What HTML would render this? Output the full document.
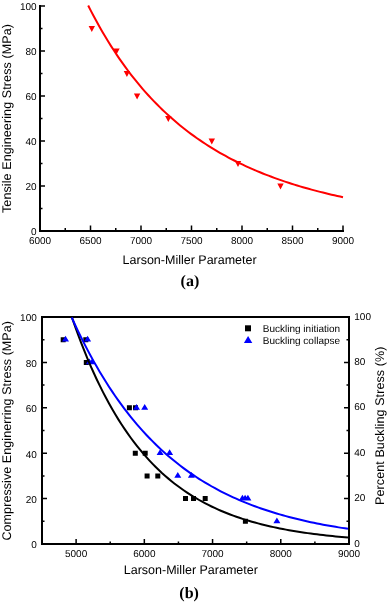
<!DOCTYPE html>
<html><head><meta charset="utf-8"><title>Larson-Miller Parameter plots</title>
<style>html,body{margin:0;padding:0;background:#fff}svg{display:block}text{text-rendering:geometricPrecision}</style></head>
<body><svg width="388" height="602" viewBox="0 0 388 602">
<rect width="388" height="602" fill="#fff"/>
<path d="M40 5V231H344" fill="none" stroke="#000" stroke-width="2.0" stroke-linejoin="miter"/>
<path d="M41 208.50h1.5 M41 186.00h4 M41 163.50h1.5 M41 141.00h4 M41 118.50h1.5 M41 96.00h4 M41 73.50h1.5 M41 51.00h4 M41 28.50h1.5 M41 6.00h4 M65.25 230v-2 M90.50 230v-4.5 M115.75 230v-2 M141.00 230v-4.5 M166.25 230v-2 M191.50 230v-4.5 M216.75 230v-2 M242.00 230v-4.5 M267.25 230v-2 M292.50 230v-4.5 M317.75 230v-2 M343.00 230v-4.5" stroke="#000" stroke-width="1.5"/>
<g font-family="'Liberation Sans', Arial, Helvetica, sans-serif" font-size="10" fill="#000"><text x="36.6" y="234.60" text-anchor="end">0</text><text x="36.6" y="189.60" text-anchor="end">20</text><text x="36.6" y="144.60" text-anchor="end">40</text><text x="36.6" y="99.60" text-anchor="end">60</text><text x="36.6" y="54.60" text-anchor="end">80</text><text x="36.6" y="9.60" text-anchor="end">100</text><text x="40.00" y="243.7" text-anchor="middle">6000</text><text x="90.50" y="243.7" text-anchor="middle">6500</text><text x="141.00" y="243.7" text-anchor="middle">7000</text><text x="191.50" y="243.7" text-anchor="middle">7500</text><text x="242.00" y="243.7" text-anchor="middle">8000</text><text x="292.50" y="243.7" text-anchor="middle">8500</text><text x="343.00" y="243.7" text-anchor="middle">9000</text></g>
<path d="M88.18 5.50 L91.04 11.11 L93.90 16.56 L96.77 21.85 L99.63 26.99 L102.49 31.98 L105.36 36.83 L108.22 41.54 L111.08 46.12 L113.95 50.57 L116.81 54.89 L119.67 59.09 L122.54 63.18 L125.40 67.15 L128.26 71.01 L131.13 74.77 L133.99 78.42 L136.85 81.97 L139.71 85.43 L142.58 88.79 L145.44 92.06 L148.30 95.24 L151.17 98.34 L154.03 101.36 L156.89 104.29 L159.76 107.15 L162.62 109.93 L165.48 112.64 L168.35 115.28 L171.21 117.85 L174.07 120.36 L176.94 122.79 L179.80 125.17 L182.66 127.48 L185.53 129.74 L188.39 131.94 L191.25 134.08 L194.12 136.17 L196.98 138.20 L199.84 140.19 L202.70 142.12 L205.57 144.01 L208.43 145.85 L211.29 147.64 L214.16 149.39 L217.02 151.10 L219.88 152.77 L222.75 154.39 L225.61 155.98 L228.47 157.52 L231.34 159.03 L234.20 160.51 L237.06 161.94 L239.93 163.35 L242.79 164.72 L245.65 166.06 L248.52 167.36 L251.38 168.64 L254.24 169.89 L257.10 171.10 L259.97 172.29 L262.83 173.45 L265.69 174.59 L268.56 175.69 L271.42 176.78 L274.28 177.83 L277.15 178.87 L280.01 179.88 L282.87 180.86 L285.74 181.83 L288.60 182.77 L291.46 183.69 L294.33 184.60 L297.19 185.48 L300.05 186.34 L302.92 187.18 L305.78 188.01 L308.64 188.81 L311.51 189.60 L314.37 190.37 L317.23 191.13 L320.09 191.86 L322.96 192.58 L325.82 193.29 L328.68 193.98 L331.55 194.66 L334.41 195.32 L337.27 195.97 L340.14 196.60 L343.00 197.22" fill="none" stroke="#f00" stroke-width="2"/>
<path fill="#f00" d="M88.60 26.10H95.00L91.80 31.90ZM113.30 48.60H119.70L116.50 54.40ZM123.70 71.10H130.10L126.90 76.90ZM133.90 93.60H140.30L137.10 99.40ZM165.10 116.10H171.50L168.30 121.90ZM208.60 138.60H215.00L211.80 144.40ZM234.80 161.10H241.20L238.00 166.90ZM277.30 183.60H283.70L280.50 189.40Z"/>
<text font-family="'Liberation Sans', Arial, Helvetica, sans-serif" font-size="12.5" x="122.6" y="264" >Larson-Miller Parameter</text>
<text font-family="'Liberation Sans', Arial, Helvetica, sans-serif" font-size="12.5" textLength="189" lengthAdjust="spacing" transform="translate(11 213) rotate(-90)">Tensile Engineering Stress (MPa)</text>
<text font-family="'Liberation Serif', 'Times New Roman', serif" font-weight="bold" font-size="16" x="180.6" y="286">(a)</text>
<path d="M42 317H349V544H42Z" fill="none" stroke="#000" stroke-width="2.0"/>
<path d="M43 521.30h1.5 M348 521.30h-1.5 M43 498.60h4 M348 498.60h-4 M43 475.90h1.5 M348 475.90h-1.5 M43 453.20h4 M348 453.20h-4 M43 430.50h1.5 M348 430.50h-1.5 M43 407.80h4 M348 407.80h-4 M43 385.10h1.5 M348 385.10h-1.5 M43 362.40h4 M348 362.40h-4 M43 339.70h1.5 M348 339.70h-1.5 M76.11 543v-4 M110.22 543v-1.5 M144.33 543v-4 M178.44 543v-1.5 M212.56 543v-4 M246.67 543v-1.5 M280.78 543v-4 M314.89 543v-1.5" stroke="#000" stroke-width="1.5"/>
<g font-family="'Liberation Sans', Arial, Helvetica, sans-serif" font-size="10" fill="#000"><text x="36.8" y="548.40" text-anchor="end">0</text><text x="354.3" y="546.60">0</text><text x="36.8" y="503.00" text-anchor="end">20</text><text x="354.3" y="501.20">20</text><text x="36.8" y="457.60" text-anchor="end">40</text><text x="354.3" y="455.80">40</text><text x="36.8" y="412.20" text-anchor="end">60</text><text x="354.3" y="410.40">60</text><text x="36.8" y="366.80" text-anchor="end">80</text><text x="354.3" y="365.00">80</text><text x="36.8" y="321.40" text-anchor="end">100</text><text x="354.3" y="319.60">100</text><text x="76.11" y="557" text-anchor="middle">5000</text><text x="144.33" y="557" text-anchor="middle">6000</text><text x="212.56" y="557" text-anchor="middle">7000</text><text x="280.78" y="557" text-anchor="middle">8000</text><text x="349.00" y="557" text-anchor="middle">9000</text></g>
<path fill="#000" d="M60.70 337.20h5.0v5.0h-5.0ZM83.30 337.20h5.0v5.0h-5.0ZM83.80 359.90h5.0v5.0h-5.0ZM126.90 405.30h5.0v5.0h-5.0ZM133.00 405.30h5.0v5.0h-5.0ZM132.80 450.70h5.0v5.0h-5.0ZM142.70 450.70h5.0v5.0h-5.0ZM144.60 473.40h5.0v5.0h-5.0ZM155.30 473.40h5.0v5.0h-5.0ZM183.00 496.10h5.0v5.0h-5.0ZM191.00 496.10h5.0v5.0h-5.0ZM202.70 496.10h5.0v5.0h-5.0ZM242.90 518.80h5.0v5.0h-5.0Z"/>
<path fill="#00f" d="M62.00 341.60H69.00L65.50 335.80ZM84.10 341.60H91.10L87.60 335.80ZM85.90 364.30H92.90L89.40 358.50ZM88.70 364.30H95.70L92.20 358.50ZM133.00 409.70H140.00L136.50 403.90ZM141.20 409.70H148.20L144.70 403.90ZM156.60 455.10H163.60L160.10 449.30ZM166.10 455.10H173.10L169.60 449.30ZM174.30 477.80H181.30L177.80 472.00ZM187.90 477.80H194.90L191.40 472.00ZM238.90 500.50H245.90L242.40 494.70ZM241.60 500.50H248.60L245.10 494.70ZM244.40 500.50H251.40L247.90 494.70ZM273.40 523.20H280.40L276.90 517.40Z"/>
<path d="M71.97 317.50 L75.07 326.37 L78.18 334.90 L81.28 343.09 L84.38 350.96 L87.48 358.52 L90.58 365.78 L93.68 372.76 L96.78 379.47 L99.89 385.91 L102.99 392.11 L106.09 398.06 L109.19 403.77 L112.29 409.26 L115.39 414.54 L118.49 419.61 L121.60 424.49 L124.70 429.17 L127.80 433.66 L130.90 437.99 L134.00 442.14 L137.10 446.13 L140.20 449.96 L143.31 453.65 L146.41 457.18 L149.51 460.58 L152.61 463.85 L155.71 466.99 L158.81 470.01 L161.91 472.91 L165.02 475.69 L168.12 478.37 L171.22 480.94 L174.32 483.41 L177.42 485.78 L180.52 488.06 L183.62 490.25 L186.73 492.36 L189.83 494.38 L192.93 496.32 L196.03 498.19 L199.13 499.99 L202.23 501.71 L205.33 503.37 L208.44 504.96 L211.54 506.49 L214.64 507.96 L217.74 509.37 L220.84 510.72 L223.94 512.03 L227.04 513.28 L230.15 514.48 L233.25 515.64 L236.35 516.75 L239.45 517.82 L242.55 518.84 L245.65 519.83 L248.75 520.78 L251.86 521.68 L254.96 522.56 L258.06 523.40 L261.16 524.21 L264.26 524.98 L267.36 525.73 L270.46 526.44 L273.57 527.13 L276.67 527.79 L279.77 528.43 L282.87 529.04 L285.97 529.62 L289.07 530.18 L292.17 530.73 L295.28 531.25 L298.38 531.75 L301.48 532.23 L304.58 532.69 L307.68 533.13 L310.78 533.56 L313.88 533.96 L316.99 534.36 L320.09 534.74 L323.19 535.10 L326.29 535.45 L329.39 535.78 L332.49 536.10 L335.59 536.41 L338.70 536.71 L341.80 537.00 L344.90 537.27 L348.00 537.53" fill="none" stroke="#000" stroke-width="2"/>
<path d="M71.72 317.50 L74.82 324.27 L77.93 330.85 L81.03 337.22 L84.14 343.41 L87.24 349.41 L90.35 355.23 L93.45 360.88 L96.55 366.35 L99.66 371.67 L102.76 376.82 L105.87 381.82 L108.97 386.67 L112.08 391.38 L115.18 395.94 L118.28 400.37 L121.39 404.67 L124.49 408.84 L127.60 412.88 L130.70 416.80 L133.81 420.61 L136.91 424.30 L140.01 427.88 L143.12 431.35 L146.22 434.72 L149.33 437.99 L152.43 441.16 L155.54 444.24 L158.64 447.22 L161.74 450.11 L164.85 452.92 L167.95 455.65 L171.06 458.29 L174.16 460.85 L177.27 463.34 L180.37 465.75 L183.47 468.09 L186.58 470.36 L189.68 472.57 L192.79 474.70 L195.89 476.78 L199.00 478.79 L202.10 480.74 L205.20 482.63 L208.31 484.47 L211.41 486.25 L214.52 487.97 L217.62 489.65 L220.72 491.28 L223.83 492.85 L226.93 494.38 L230.04 495.87 L233.14 497.31 L236.25 498.70 L239.35 500.06 L242.45 501.37 L245.56 502.65 L248.66 503.88 L251.77 505.08 L254.87 506.25 L257.98 507.38 L261.08 508.47 L264.18 509.54 L267.29 510.57 L270.39 511.57 L273.50 512.54 L276.60 513.48 L279.71 514.39 L282.81 515.28 L285.91 516.14 L289.02 516.97 L292.12 517.78 L295.23 518.56 L298.33 519.32 L301.44 520.06 L304.54 520.78 L307.64 521.47 L310.75 522.15 L313.85 522.80 L316.96 523.43 L320.06 524.05 L323.17 524.65 L326.27 525.22 L329.37 525.79 L332.48 526.33 L335.58 526.86 L338.69 527.37 L341.79 527.87 L344.90 528.35 L348.00 528.82" fill="none" stroke="#00f" stroke-width="2"/>
<path fill="#000" d="M245.00 325.30h6v6h-6Z"/>
<path fill="#00f" d="M243.90 342.90H252.30L248.10 336.00Z"/>
<g font-family="'Liberation Sans', Arial, Helvetica, sans-serif" font-size="10"><text x="262.8" y="331.9">Buckling initiation</text><text x="262.8" y="343.9">Buckling collapse</text></g>
<text font-family="'Liberation Sans', Arial, Helvetica, sans-serif" font-size="12.5" x="123.8" y="574.4">Larson-Miller Parameter</text>
<text font-family="'Liberation Sans', Arial, Helvetica, sans-serif" font-size="12.5" textLength="219.5" lengthAdjust="spacing" transform="translate(11 540.5) rotate(-90)">Compressive Enginerring Stress (MPa)</text>
<text font-family="'Liberation Sans', Arial, Helvetica, sans-serif" font-size="12.5" textLength="158.5" lengthAdjust="spacing" transform="translate(384.2 505) rotate(-90)">Percent Buckling Stress (%)</text>
<text font-family="'Liberation Serif', 'Times New Roman', serif" font-weight="bold" font-size="16" x="179.3" y="598.1">(b)</text>
</svg></body></html>
